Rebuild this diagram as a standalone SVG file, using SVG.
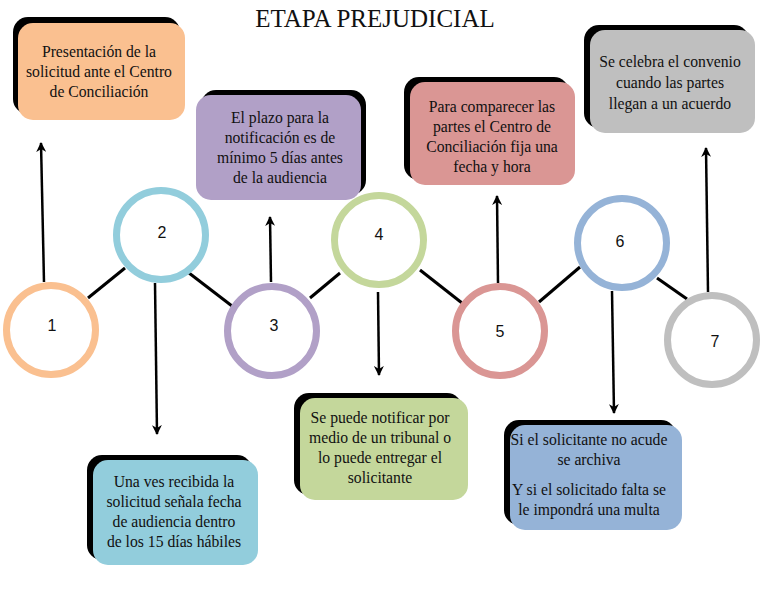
<svg xmlns="http://www.w3.org/2000/svg" width="768" height="594" viewBox="0 0 768 594">
<defs>
<style>
.ring{fill:#fff;stroke-width:7}
.num{font-family:"Liberation Sans",Arial,sans-serif;font-size:16px;text-anchor:middle;fill:#111}
.lbl{font-family:"Liberation Serif","Times New Roman",serif;font-size:15.7px;text-anchor:middle;fill:#111}
.shadow{fill:#000}
.link{stroke:#000;stroke-width:3;fill:none}
.arr{stroke:#000;stroke-width:2.5;fill:none;marker-end:url(#ah)}
</style>
<marker id="ah" viewBox="0 0 10 10" refX="9" refY="5" markerWidth="4" markerHeight="4" orient="auto" markerUnits="strokeWidth">
<path d="M0,0 L10,5 L0,10 L3,5 z" fill="#000"/>
</marker>
</defs>
<rect width="768" height="594" fill="#fff"/>
<text x="375" y="27" font-family="'Liberation Serif','Times New Roman',serif" font-size="25" text-anchor="middle" fill="#111">ETAPA PREJUDICIAL</text>

<g id="connectors">
<line class="link" x1="88" y1="298" x2="125" y2="268"/>
<line class="link" x1="189" y1="273" x2="232" y2="306"/>
<line class="link" x1="310" y1="298" x2="340" y2="273"/>
<line class="link" x1="420" y1="270" x2="462" y2="303"/>
<line class="link" x1="539" y1="302" x2="580" y2="267"/>
<line class="link" x1="657" y1="278" x2="687" y2="299"/>
<line class="arr" x1="44" y1="282" x2="41" y2="143"/>
<line class="arr" x1="155" y1="283" x2="157" y2="434"/>
<line class="arr" x1="271" y1="282" x2="270" y2="217"/>
<line class="arr" x1="378" y1="292" x2="379" y2="375"/>
<line class="arr" x1="498" y1="283" x2="497" y2="196"/>
<line class="arr" x1="612" y1="291" x2="614" y2="413"/>
<line class="arr" x1="708" y1="292" x2="706" y2="148"/>
</g>

<g id="step1"><circle class="ring" cx="51" cy="330" r="44.5" stroke="#FAC090"/><text class="num" x="52" y="331">1</text></g>
<g id="step2"><circle class="ring" cx="161" cy="235" r="44.5" stroke="#92CDDC"/><text class="num" x="162" y="238">2</text></g>
<g id="step3"><circle class="ring" cx="272" cy="331" r="44.5" stroke="#B1A0C7"/><text class="num" x="274" y="331">3</text></g>
<g id="step4"><circle class="ring" cx="379" cy="240" r="44.5" stroke="#C4D79B"/><text class="num" x="379" y="240">4</text></g>
<g id="step5"><circle class="ring" cx="500" cy="331" r="44.5" stroke="#DA9694"/><text class="num" x="500" y="337">5</text></g>
<g id="step6"><circle class="ring" cx="622" cy="243" r="44.5" stroke="#95B3D7"/><text class="num" x="620" y="247">6</text></g>
<g id="step7"><circle class="ring" cx="712" cy="340" r="44.5" stroke="#BFBFBF"/><text class="num" x="715" y="347">7</text></g>

<g id="box1">
<rect class="shadow" x="13" y="17" width="167" height="97" rx="15"/>
<rect x="18" y="23" width="167" height="97" rx="15" fill="#FAC090"/>
<text class="lbl" x="99" y="57">Presentación de la</text>
<text class="lbl" x="99" y="77">solicitud ante el Centro</text>
<text class="lbl" x="99" y="97">de Conciliación</text>
</g>

<g id="box2">
<rect class="shadow" x="201" y="90" width="165" height="105" rx="15"/>
<rect x="196" y="95" width="165" height="105" rx="15" fill="#B1A0C7"/>
<text class="lbl" x="280" y="123">El plazo para la</text>
<text class="lbl" x="280" y="143">notificación es de</text>
<text class="lbl" x="280" y="163">mínimo 5 días antes</text>
<text class="lbl" x="280" y="183">de la audiencia</text>
</g>

<g id="box3">
<rect class="shadow" x="404" y="77" width="165" height="103" rx="15"/>
<rect x="410" y="82" width="165" height="103" rx="15" fill="#DA9694"/>
<text class="lbl" x="492" y="112">Para comparecer las</text>
<text class="lbl" x="492" y="132">partes el Centro de</text>
<text class="lbl" x="492" y="152">Conciliación fija una</text>
<text class="lbl" x="492" y="172">fecha y hora</text>
</g>

<g id="box4">
<rect class="shadow" x="584" y="25" width="165" height="103" rx="15"/>
<rect x="590" y="30" width="165" height="103" rx="15" fill="#BFBFBF"/>
<text class="lbl" x="670" y="67">Se celebra el convenio</text>
<text class="lbl" x="670" y="88">cuando las partes</text>
<text class="lbl" x="670" y="109">llegan a un acuerdo</text>
</g>

<g id="box5">
<rect class="shadow" x="87" y="455" width="165" height="105" rx="15"/>
<rect x="93" y="460" width="165" height="105" rx="15" fill="#92CDDC"/>
<text class="lbl" x="174" y="487">Una ves recibida la</text>
<text class="lbl" x="174" y="507">solicitud señala fecha</text>
<text class="lbl" x="174" y="527">de audiencia dentro</text>
<text class="lbl" x="174" y="547">de los 15 días hábiles</text>
</g>

<g id="box6">
<rect class="shadow" x="294" y="393" width="168" height="102" rx="15"/>
<rect x="300" y="398" width="168" height="102" rx="15" fill="#C4D79B"/>
<text class="lbl" x="380" y="423">Se puede notificar por</text>
<text class="lbl" x="380" y="443">medio de un tribunal o</text>
<text class="lbl" x="380" y="463">lo puede entregar el</text>
<text class="lbl" x="380" y="483">solicitante</text>
</g>

<g id="box7">
<rect class="shadow" x="504" y="420" width="172" height="105" rx="15"/>
<rect x="510" y="425" width="172" height="105" rx="15" fill="#95B3D7"/>
<text class="lbl" x="589" y="445">Si el solicitante no acude</text>
<text class="lbl" x="589" y="465">se archiva</text>
<text class="lbl" x="589" y="495">Y si el solicitado falta se</text>
<text class="lbl" x="589" y="515">le impondrá una multa</text>
</g>
</svg>
